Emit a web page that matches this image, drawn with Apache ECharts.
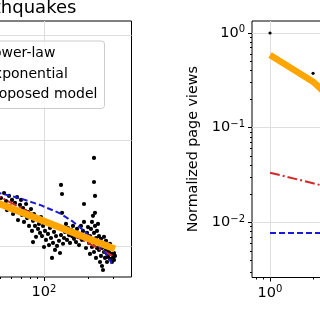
<!DOCTYPE html>
<html>
<head>
<meta charset="utf-8">
<script src="https://cdn.jsdelivr.net/npm/echarts@6/dist/echarts.min.js"></script>
<style>
html, body { margin: 0; padding: 0; width: 320px; height: 320px; overflow: hidden; background: #fff; }
#echarts { position: absolute; left: -200px; top: 0; width: 700px; height: 320px; }
</style>
</head>
<body>
<div id="echarts"></div>
<script>
// left panel (Earthquakes): observed points [x, y]
var quakePoints = [
  [50.8,0.0285],[52.4,0.0245],[53.3,0.0318],[55.0,0.0267],[55.8,0.0219],[57.6,0.0298],[58.5,0.0239],
  [60.4,0.0273],[61.4,0.0201],[63.3,0.0256],[64.3,0.0224],[65.4,0.0291],[67.5,0.0210],[68.5,0.0245],[66.4,0.0176],
  [69.6,0.0273],[70.7,0.0197],[71.9,0.0229],[73.0,0.0169],[74.2,0.0215],[75.4,0.0250],[76.6,0.0184],[77.8,0.0210],
  [79.0,0.0155],[80.2,0.0193],[81.5,0.0224],[82.8,0.0139],[84.1,0.0173],[84.1,0.0109],[85.4,0.0201],[86.8,0.0155],
  [88.2,0.0122],[89.6,0.0180],[91.0,0.0145],[92.4,0.0162],[93.9,0.0133],[95.4,0.0188],
  [96.9,0.0124],[98.5,0.0155],[100,0.00978],[101.6,0.0139],[103.2,0.0114],[104.9,0.0169],[106.5,0.0130],
  [108.2,0.0102],[109.9,0.0148],[111.7,0.0119],[113.5,0.0077],[115.3,0.0107],[117.1,0.0136],[119.0,0.00917],
  [120.9,0.0124],[122.8,0.0100],[124.7,0.0151],[126.7,0.0112],[128.7,0.00858],[130.8,0.0127],[132.9,0.0145],
  [135.0,0.0105],[137.1,0.0119],[130.8,0.0379],[132.9,0.0311],[132.9,0.0206],
  [139.3,0.0136],[141.5,0.0162],[143.8,0.0114],[146.0,0.0148],[148.4,0.0127],[150.7,0.0107],[153.1,0.0142],
  [155.5,0.0124],[158.0,0.0155],[160.5,0.0117],[163.1,0.0133],[165.7,0.0109],[168.3,0.0145],[171.0,0.0122],
  [173.7,0.0102],[176.4,0.0130],[179.2,0.0155],[182.1,0.0114],[185.0,0.0139],[187.9,0.0169],[190.9,0.0119],
  [193.9,0.00957],[197.0,0.0133],[200.1,0.0151],[203.3,0.0107],[187.9,0.0250],
  [206.5,0.0124],[206.5,0.0084],[209.8,0.0145],[213.1,0.00978],[213.1,0.0169],[216.5,0.0114],[216.5,0.0193],
  [220.0,0.0133],[220.0,0.00877],[223.5,0.0155],[223.5,0.0105],[227.0,0.0119],[227.0,0.0077],[230.6,0.0139],
  [230.6,0.00957],[234.3,0.0109],[234.3,0.0162],[238.0,0.00917],[238.0,0.0124],[241.8,0.0102],[241.8,0.00705],
  [245.6,0.0117],[245.6,0.00804],[249.5,0.00646],[249.5,0.00957],[253.5,0.0107],[253.5,0.00592],[257.5,0.00877],
  [257.5,0.0122],[261.6,0.0077],[261.6,0.0102],[265.8,0.00917],[265.8,0.0112],[270.0,0.00705],[270.0,0.0084],
  [274.3,0.00978],[274.3,0.00787],[278.6,0.00897],[283.1,0.00753],[283.1,0.0105],[287.6,0.0084],[292.2,0.00705],
  [292.2,0.00937],[296.8,0.00787],[301.5,0.00858],[301.5,0.00737],[306.3,0.00804],
  [220.0,0.0683],[220.0,0.0404],[223.5,0.0298],[223.5,0.0206]
];
var quakePowerLaw = [[26.6,0.0461],[306,0.00783]];
var quakeExponential = [[26.6,0.0362],[50,0.0316],[68.5,0.0283],[93.9,0.0245],[128.7,0.0204],[158,0.0170],
  [190.9,0.01366],[230.6,0.01061],[270,0.00822],[292.2,0.00677]];
var quakeProposed = [[26.6,0.0352],[306,0.00937]];

// right panel: page views by rank
var pageRanks = [1, 2, 3];
var pageViews = [1.0, 0.375];
var pagePowerLaw = [0.0335, 0.0259, 0.0223];
var pageExponential = [0.00773, 0.00773, 0.00773];
var pageProposed = [0.586, 0.306, 0.172];

// ticks
var quakeXMajor = [100];
var quakeXMinor = [20, 30, 40, 50, 60, 70, 80, 90, 200, 300];
var quakeYMajor = [0.01, 0.1, 1];
var pageXMajor = [1, 10];
var pageXMinor = [0.8, 0.9, 2, 3, 4, 5, 6, 7, 8, 9, 20];
var pageYMajor = [0.01, 0.1, 1];
var pageYMinor = [0.003, 0.004, 0.005, 0.006, 0.007, 0.008, 0.009,
  0.02, 0.03, 0.04, 0.05, 0.06, 0.07, 0.08, 0.09, 0.2, 0.3, 0.4, 0.5, 0.6, 0.7, 0.8, 0.9];

var FONT = 'DejaVu Sans';
var GRIDCOLOR = '#dedede';

function pairs(xs, ys) {
  var out = [];
  for (var i = 0; i < ys.length; i++) out.push([xs[i], ys[i]]);
  return out;
}

function supLabel(v) {
  var e = Math.round(Math.log10(v));
  return '{b|10}{s|' + (e < 0 ? '\u2212' + (-e) : e) + '}';
}
var labelRich = {
  b: { fontFamily: FONT, fontSize: 14.5, color: '#000', lineHeight: 17 },
  s: { fontFamily: FONT, fontSize: 10, color: '#000', verticalAlign: 'top', lineHeight: 11 }
};

function majorAxis(grid, pos, min, max, ticks, labels) {
  return {
    gridIndex: grid, type: 'log', position: pos, min: min, max: max,
    axisLine: { show: false },
    axisTick: { show: true, customValues: ticks, length: 4, lineStyle: { color: '#000', width: 1 } },
    axisLabel: labels ? { customValues: ticks, formatter: supLabel, rich: labelRich, margin: 7 } : { show: false },
    splitLine: { show: true, lineStyle: { color: GRIDCOLOR, width: 1 } }
  };
}
function minorAxis(grid, pos, min, max, ticks) {
  return {
    gridIndex: grid, type: 'log', position: pos, min: min, max: max,
    axisLine: { show: false },
    axisTick: { show: true, customValues: ticks, length: 2, lineStyle: { color: '#000', width: 1 } },
    axisLabel: { show: false },
    splitLine: { show: false }
  };
}

var myChart = echarts.init(document.getElementById('echarts'));

var option = {
  animation: false,
  backgroundColor: '#fff',
  title: {
    text: 'Earthquakes',
    left: 164, top: -1, padding: 0,
    textStyle: { fontFamily: FONT, fontSize: 18, fontWeight: 'normal', color: '#000' }
  },
  legend: {
    orient: 'vertical',
    left: 147, top: 41,
    data: ['Power-law', 'Exponential', 'Proposed model'],
    itemWidth: 26, itemHeight: 14, itemGap: 4.5,
    padding: [4.5, 7, 6, 6],
    backgroundColor: 'rgba(255,255,255,0.8)',
    borderColor: '#cccccc', borderWidth: 1, borderRadius: 3,
    textStyle: { fontFamily: FONT, fontSize: 14, lineHeight: 16, color: '#000' }
  },
  grid: [
    { left: 109.5, top: 21, width: 222, height: 256, show: true, borderColor: '#000', borderWidth: 1, backgroundColor: 'transparent' },
    { left: 452, top: 21, width: 222, height: 256.5, show: true, borderColor: '#000', borderWidth: 1, backgroundColor: 'transparent' }
  ],
  xAxis: [
    majorAxis(0, 'bottom', 12, 397.4, quakeXMajor, true),
    minorAxis(0, 'bottom', 12, 397.4, quakeXMinor),
    majorAxis(1, 'bottom', 0.748, 26.7, pageXMajor, true),
    minorAxis(1, 'bottom', 0.748, 26.7, pageXMinor)
  ],
  yAxis: [
    majorAxis(0, 'left', 0.00508, 1.358, quakeYMajor, false),
    Object.assign(majorAxis(1, 'left', 0.00262, 1.339, pageYMajor, true), {
      name: 'Normalized page views', nameLocation: 'middle', nameGap: 52, nameRotate: 90,
      nameTextStyle: { fontFamily: FONT, fontSize: 14.3, color: '#000' }
    }),
    minorAxis(1, 'left', 0.00262, 1.339, pageYMinor)
  ],
  series: [
    {
      name: 'data', type: 'scatter', xAxisIndex: 0, yAxisIndex: 0,
      data: quakePoints, symbolSize: 4.2, itemStyle: { color: '#000', opacity: 1 }, z: 2
    },
    {
      name: 'Power-law', type: 'line', xAxisIndex: 0, yAxisIndex: 0, data: quakePowerLaw,
      symbol: 'none', lineStyle: { color: '#d62728', width: 2, type: [10, 3, 2, 3] }, itemStyle: { color: '#d62728' }, z: 3
    },
    {
      name: 'Exponential', type: 'line', xAxisIndex: 0, yAxisIndex: 0, data: quakeExponential,
      symbol: 'none', lineStyle: { color: '#1a1ad6', width: 2, type: [6, 3] }, itemStyle: { color: '#1a1ad6' }, z: 3
    },
    {
      name: 'Proposed model', type: 'line', xAxisIndex: 0, yAxisIndex: 0, data: quakeProposed,
      symbol: 'none', lineStyle: { color: '#ffa500', width: 7 }, itemStyle: { color: '#ffa500' }, z: 4
    },
    {
      name: 'data', type: 'scatter', xAxisIndex: 2, yAxisIndex: 1,
      data: pairs(pageRanks, pageViews), symbolSize: 3.2, itemStyle: { color: '#000', opacity: 1 }, z: 2
    },
    {
      name: 'Power-law', type: 'line', xAxisIndex: 2, yAxisIndex: 1, data: pairs(pageRanks, pagePowerLaw),
      symbol: 'none', lineStyle: { color: '#d62728', width: 2, type: [10, 3, 2, 3] }, z: 3
    },
    {
      name: 'Exponential', type: 'line', xAxisIndex: 2, yAxisIndex: 1, data: pairs(pageRanks, pageExponential),
      symbol: 'none', lineStyle: { color: '#1a1ad6', width: 2, type: [6, 3] }, z: 3
    },
    {
      name: 'Proposed model', type: 'line', xAxisIndex: 2, yAxisIndex: 1, data: pairs(pageRanks, pageProposed),
      symbol: 'none', lineStyle: { color: '#ffa500', width: 6.5 }, z: 4
    }
  ]
};

myChart.setOption(option);
</script>
</body>
</html>
